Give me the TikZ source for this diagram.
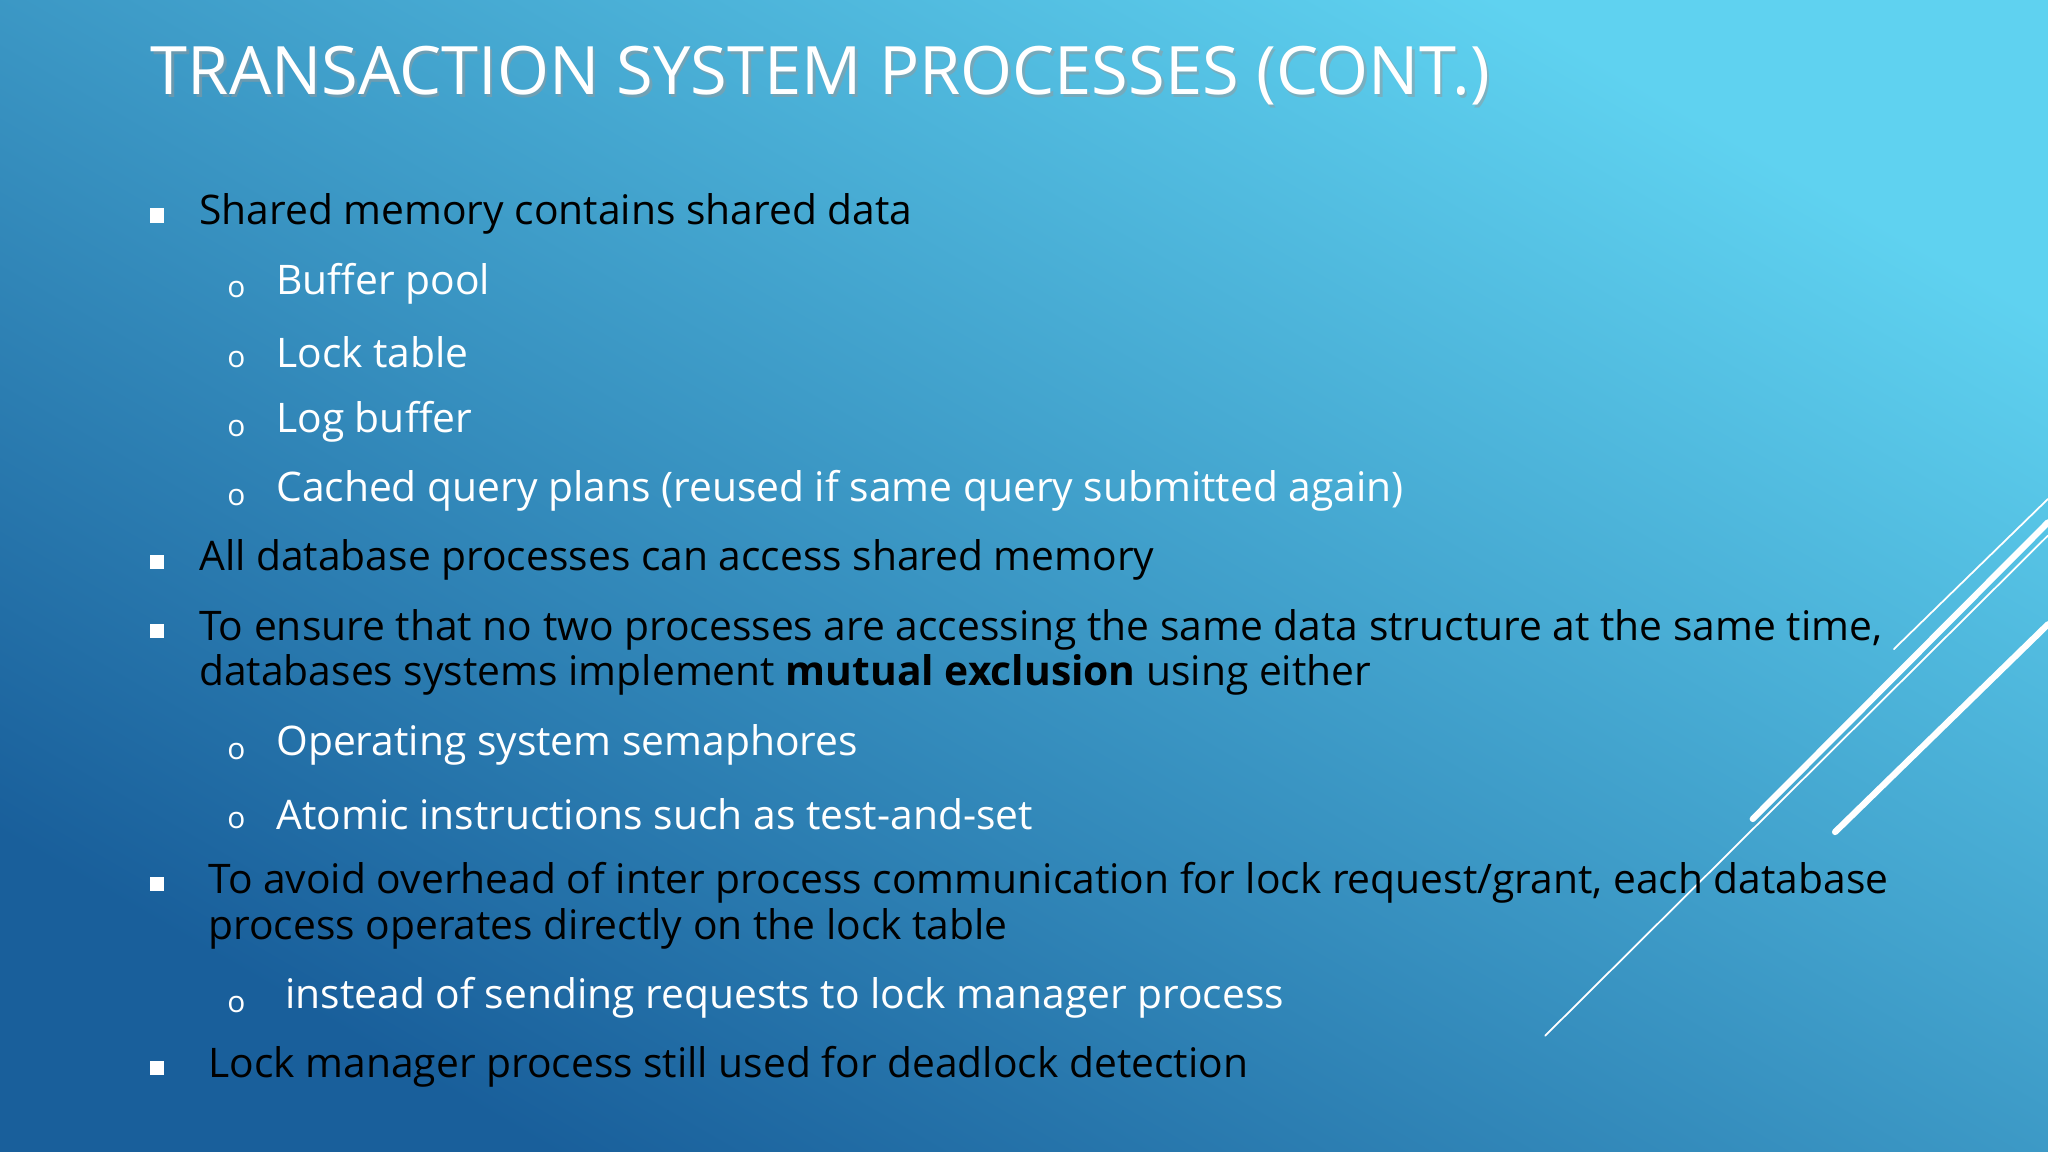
\documentclass[tikz,border=0pt]{standalone}
\usepackage{fontspec}
\setmainfont{Open Sans}
\begin{document}
\begin{tikzpicture}[x=0.013061cm,y=-0.013061cm,
  txt/.style={anchor=west,inner sep=0pt,text=black,font=\fontsize{11.6}{14}\selectfont},
  subtxt/.style={txt,text=white},
  bul/.style={anchor=center,inner sep=0pt,fill=white,minimum size=4pt,rectangle},
  sbul/.style={anchor=center,inner sep=0pt,text=white,font=\fontsize{8.5}{10}\selectfont},
  deco/.style={draw=white,line cap=round}]
\useasboundingbox (0,0) rectangle (1568,882);
\shade[top color={rgb,255:red,95;green,210;blue,240}, bottom color={rgb,255:red,25;green,95;blue,155}, shading angle=-30] (0,0) rectangle (1568,882);
% diagonal decoration
\coordinate (l1a) at (1450,497); \coordinate (l1b) at (1568,382);
\coordinate (l2a) at (1342,627); \coordinate (l2b) at (1568,400);
\coordinate (l3a) at (1405,637); \coordinate (l3b) at (1568,478);
\coordinate (l4a) at (1183,793); \coordinate (l4b) at (1568,410);
\draw[deco,line width=0.5pt] (l1a) -- (l1b);
\draw[deco,line width=1.8pt] (l2a) -- (l2b);
\draw[deco,line width=1.8pt] (l3a) -- (l3b);
\draw[deco,line width=0.5pt] (l4a) -- (l4b);
% title
\node[anchor=west,inner sep=0pt,text=black!40,opacity=0.5,font=\fontsize{19}{22}\selectfont] at (117,60) {TRANSACTION SYSTEM PROCESSES (CONT.)};
\node (title)[anchor=west,inner sep=0pt,text=white,font=\fontsize{19}{22}\selectfont] at (115,58) {TRANSACTION SYSTEM PROCESSES (CONT.)};
% bullets
\node (b1)[bul] at (120,165) {};
\node (t1)[txt] at (152,164) {Shared memory contains shared data};
\node (s1)[sbul] at (181,222) {o}; \node (u1)[subtxt] at (211,217) {Buffer pool};
\node (s2)[sbul] at (181,275) {o}; \node (u2)[subtxt] at (211,270) {Lock table};
\node (s3)[sbul] at (181,328) {o}; \node (u3)[subtxt] at (211,323) {Log buffer};
\node (s4)[sbul] at (181,381) {o}; \node (u4)[subtxt] at (211,376) {Cached query plans (reused if same query submitted again)};
\node (b2)[bul] at (120,430) {};
\node (t2)[txt] at (152,429) {All database processes can access shared memory};
\node (b3)[bul] at (120,483) {};
\node (t3)[txt] at (152,482) {To ensure that no two processes are accessing the same data structure at the same time,};
\node (t3b)[txt] at (152,517) {databases systems implement \textbf{mutual exclusion} using either};
\node (s5)[sbul] at (181,575) {o}; \node (u5)[subtxt] at (211,570) {Operating system semaphores};
\node (s6)[sbul] at (181,628) {o}; \node (u6)[subtxt] at (211,623) {Atomic instructions such as test-and-set};
\node (b4)[bul] at (120,677) {};
\node (t4)[txt] at (159,676) {To avoid overhead of inter process communication for lock request/grant, each database};
\node (t4b)[txt] at (159,711) {process operates directly on the lock table};
\node (s7)[sbul] at (181,769) {o}; \node (u7)[subtxt] at (218,764) {instead of sending requests to lock manager process};
\node (b5)[bul] at (120,818) {};
\node (t5)[txt] at (159,817) {Lock manager process still used for deadlock detection};
\end{tikzpicture}
\end{document}
